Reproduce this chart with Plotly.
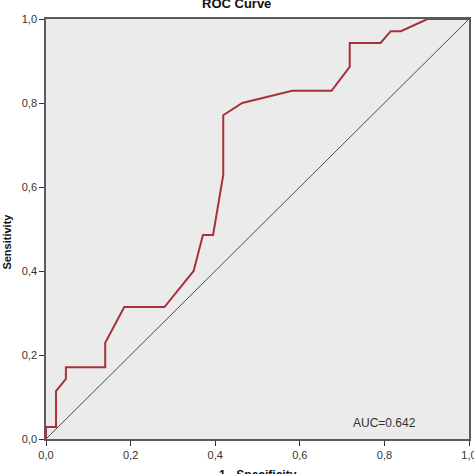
import plotly.graph_objects as go

# ROC curve points (1 - specificity, sensitivity)
fpr = [0.0, 0.0, 0.0237, 0.0237, 0.047, 0.047, 0.14, 0.14, 0.185, 0.28, 0.349,
       0.371, 0.395, 0.419, 0.419, 0.464, 0.582, 0.675, 0.718, 0.718, 0.791,
       0.815, 0.839, 0.902, 1.0]
tpr = [0.0, 0.0286, 0.0286, 0.114, 0.143, 0.171, 0.171, 0.229, 0.314, 0.314, 0.4,
       0.486, 0.486, 0.629, 0.771, 0.8, 0.829, 0.829, 0.886, 0.943, 0.943,
       0.971, 0.971, 1.0, 1.0]
ref_x = [0.0, 1.0]
ref_y = [0.0, 1.0]
tick_vals = [0.0, 0.2, 0.4, 0.6, 0.8, 1.0]
tick_text = ["0,0", "0,2", "0,4", "0,6", "0,8", "1,0"]
auc_label = "AUC=0.642"

FONT = "Liberation Sans, Arial"

fig = go.Figure()
fig.add_trace(go.Scatter(x=ref_x, y=ref_y, mode="lines",
                         line=dict(color="#3a3a3a", width=0.9), showlegend=False))
fig.add_trace(go.Scatter(x=fpr, y=tpr, mode="lines",
                         line=dict(color="#a8323a", width=2), showlegend=False))

axis_common = dict(range=[0, 1], tickvals=tick_vals, ticktext=tick_text,
                   showgrid=False, zeroline=False, showline=True, mirror=True,
                   linecolor="#5a5a5a", linewidth=1.5, ticks="outside",
                   ticklen=5, tickcolor="#333", tickwidth=1,
                   ticklabeloverflow="allow", automargin=False,
                   tickfont=dict(family=FONT, size=11, color="#333"))

fig.update_layout(
    width=474, height=474,
    margin=dict(l=46, r=5, t=19, b=35),
    paper_bgcolor="white", plot_bgcolor="#ebebeb",
    xaxis=dict(**axis_common),
    yaxis=dict(**axis_common),
    showlegend=False,
)

fig.update_layout(annotations=[
    dict(text="<b>ROC Curve</b>", xref="paper", yref="paper", x=0.45, y=1,
         yshift=16, showarrow=False, yanchor="middle",
         font=dict(family=FONT, size=13, color="#111")),
    dict(text="<b>1 - Specificity</b>", xref="paper", yref="paper", x=0.5, y=0,
         yshift=-27, showarrow=False, yanchor="top",
         font=dict(family=FONT, size=12, color="#111")),
    dict(text="<b>Sensitivity</b>", xref="paper", yref="paper", x=0, y=0.47,
         xshift=-39, showarrow=False, textangle=-90, xanchor="center",
         font=dict(family=FONT, size=11, color="#111")),
    dict(text=auc_label, xref="x", yref="y", x=0.80, y=0.037, showarrow=False,
         font=dict(family="Liberation Sans Narrow, Liberation Sans, Arial", size=12, color="#333")),
])

fig.write_html("out.html", config={"displayModeBar": False},
               post_script="document.body.style.margin='0';")
